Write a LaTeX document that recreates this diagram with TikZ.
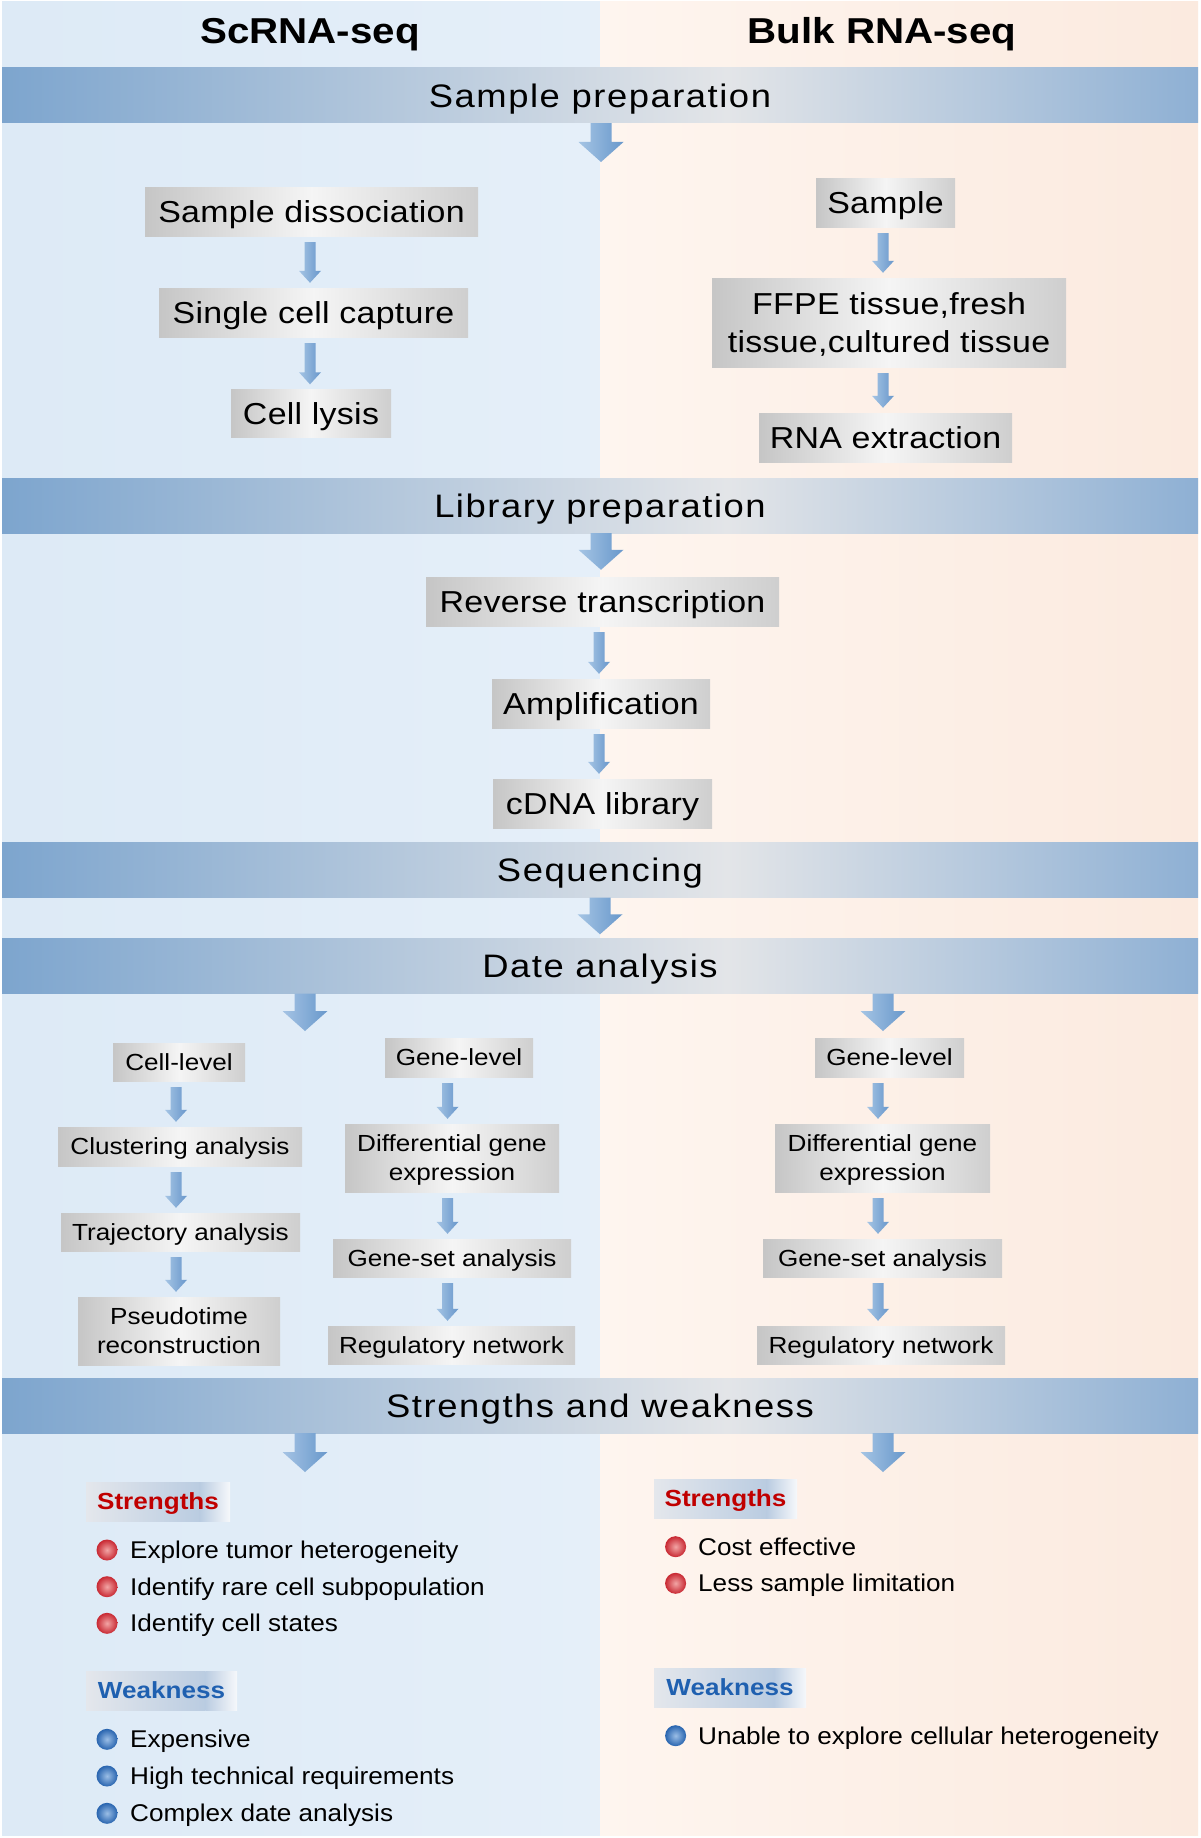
\documentclass[tikz,border=0pt]{standalone}
\usepackage{fontspec}
\setmainfont{Liberation Sans}
\newfontfamily\headfam[FakeStretch=1.12,Ligatures=NoCommon]{Liberation Sans}
\newfontfamily\bandfam[FakeStretch=1.12,LetterSpace=4.7,Ligatures=NoCommon]{Liberation Sans}
\newfontfamily\bigfam[FakeStretch=1.12,LetterSpace=0.9,Ligatures=NoCommon]{Liberation Sans}
\newfontfamily\smallfam[FakeStretch=1.12,Ligatures=NoCommon]{Liberation Sans}
\newfontfamily\itemfam[FakeStretch=1.08,Ligatures=NoCommon]{Liberation Sans}
\newfontfamily\labfam[FakeStretch=1.12,Ligatures=NoCommon]{Liberation Sans}
\usetikzlibrary{calc}

\definecolor{bandL}{RGB}{125,165,206}
\definecolor{bandM}{RGB}{227,229,232}
\definecolor{bandR}{RGB}{142,176,212}
\definecolor{leftA}{RGB}{221,234,246}
\definecolor{leftB}{RGB}{229,239,249}
\definecolor{rightA}{RGB}{254,245,239}
\definecolor{rightB}{RGB}{251,234,223}
\definecolor{arrL}{RGB}{165,196,228}
\definecolor{arrR}{RGB}{104,151,203}
\definecolor{strC}{RGB}{192,0,0}
\definecolor{weakC}{RGB}{31,96,176}
\definecolor{labL}{RGB}{228,231,236}
\definecolor{labM}{RGB}{186,204,225}
\definecolor{labR}{RGB}{246,248,251}
\definecolor{redIn}{RGB}{242,165,165}
\definecolor{redOut}{RGB}{200,40,50}
\definecolor{bluIn}{RGB}{155,190,230}
\definecolor{bluOut}{RGB}{40,100,175}

\newcommand\twolines[2]{\vbox{\halign{\hfil##\hfil\cr#1\cr#2\cr}}}
\newcommand\varrow[5]{%
  \shade[left color=arrL, right color=arrR]
    ($(#1)+(-#3,0)$) -- ($(#2)+(-#3,-#5)$) -- ($(#2)+(-#4,-#5)$) -- (#2)
    -- ($(#2)+(#4,-#5)$) -- ($(#2)+(#3,-#5)$) -- ($(#1)+(#3,0)$) -- cycle;}
\newcommand\sarr[3]{%
  \coordinate (tmpS) at ($(#1.south -| #3)+(0,6)$);
  \coordinate (tmpE) at ($(#2.north -| #3)+(0,-5)$);
  \varrow{tmpS}{tmpE}{5.5}{11}{12}}
\newcommand\barr[2]{\varrow{#1}{#2}{10.5}{22.5}{20}}

\tikzset{
  head/.style={inner sep=0pt, text height=26pt, text depth=0pt,
    font={\headfam\bfseries\fontsize{36}{42}\selectfont}},
  band/.style={minimum width=1196pt, minimum height=55pt, inner sep=0pt,
    text height=23.5pt, text depth=0pt,
    font={\bandfam\fontsize{32.5}{38}\selectfont},
    path picture={
      \coordinate (bpN) at ($(path picture bounding box.north west)!0.6062!(path picture bounding box.north east)$);
      \coordinate (bpS) at ($(path picture bounding box.south west)!0.6062!(path picture bounding box.south east)$);
      \shade[left color=bandL, right color=bandM]
        (path picture bounding box.south west) rectangle (bpN);
      \shade[left color=bandM, right color=bandR]
        (bpS) rectangle (path picture bounding box.north east);}},
  gbox/.style={inner xsep=10pt, inner ysep=0pt,
    left color=gray!45, right color=gray!38, middle color=gray!8},
  bbox/.style={gbox, minimum height=48pt, text height=21.7pt, text depth=0pt,
    font={\bigfam\fontsize{30.3}{38.4}\selectfont}},
  sbox/.style={gbox, minimum height=38pt, text height=16.7pt, text depth=0pt,
    font={\smallfam\fontsize{23.3}{29}\selectfont}},
  lab/.style={minimum height=39pt, inner xsep=8pt, inner ysep=0pt,
    text height=16.7pt, text depth=0pt,
    font={\labfam\bfseries\fontsize{23.3}{28}\selectfont},
    path picture={
      \coordinate (ppN) at ($(path picture bounding box.north west)!0.79!(path picture bounding box.north east)$);
      \coordinate (ppS) at ($(path picture bounding box.south west)!0.79!(path picture bounding box.south east)$);
      \shade[left color=labL, right color=labM] (path picture bounding box.south west) rectangle (ppN);
      \shade[left color=labM, right color=labR] (ppS) rectangle (path picture bounding box.north east);}},
  item/.style={anchor=west, inner sep=0pt, text height=17.3pt, text depth=0pt,
    font={\itemfam\fontsize{24.2}{29}\selectfont}},
  redball/.style={circle, minimum size=21pt, inner sep=0pt, inner color=redIn, outer color=redOut},
  blueball/.style={circle, minimum size=21pt, inner sep=0pt, inner color=bluIn, outer color=bluOut},
}

\begin{document}
\begin{tikzpicture}[x=1pt,y=-1pt]
\useasboundingbox (0,0) rectangle (1200,1838);
\fill[white] (0,0) rectangle (1200,1838);
\shade[left color=leftA, right color=leftB] (2,2) rectangle (600,1835);
\shade[left color=rightA, right color=rightB] (600,2) rectangle (1198,1835);

% headers
\node[head] (h1) at (310,31) {ScRNA-seq};
\node[head] (h2) at (882,31) {Bulk RNA-seq};

% bands
\node[band] (b1) at (600,95.5) {Sample preparation};
\node[band] (b2) at (600,505.5) {Library preparation};
\node[band] (b3) at (600,870) {Sequencing};
\node[band] (b4) at (600,966) {Date analysis};
\node[band] (b5) at (600,1405.5) {Strengths and weakness};

% column coordinates for arrows
\coordinate (cx1) at (310,0);
\coordinate (cx2) at (883,0);
\coordinate (cx3) at (599,0);
\coordinate (cx4) at (176,0);
\coordinate (cx5) at (447.5,0);
\coordinate (cx6) at (878,0);

% sample preparation
\node[bbox, minimum width=333pt] (sd) at (311.5,212) {Sample dissociation};
\node[bbox, minimum width=309pt, minimum height=49pt] (scc) at (313.5,312.5) {Single cell capture};
\node[bbox, minimum width=160pt] (cl) at (311,413.5) {Cell lysis};
\node[bbox, minimum width=139pt] (sam) at (885.5,203) {Sample};
\node[bbox, minimum width=354pt, minimum height=89pt, text height=60.1pt] (ffpe) at (889,322.5)
  {\twolines{FFPE tissue,fresh}{tissue,cultured tissue}};
\node[bbox, minimum width=253pt, minimum height=49pt] (rna) at (885.5,437.5) {RNA extraction};

% library preparation
\node[bbox, minimum width=353pt, minimum height=49pt] (rt) at (602.5,601.5) {Reverse transcription};
\node[bbox, minimum width=218pt, minimum height=49pt] (amp) at (601,703.5) {Amplification};
\node[bbox, minimum width=219pt, minimum height=49pt] (cdna) at (602.5,803.5) {cDNA library};

% data analysis
\node[sbox, minimum width=132pt] (cell) at (179,1062) {Cell-level};
\node[sbox, minimum width=244pt, minimum height=39pt] (clus) at (180,1146.5) {Clustering analysis};
\node[sbox, minimum width=239pt] (traj) at (180.5,1232) {Trajectory analysis};
\node[sbox, minimum width=202pt, minimum height=68pt, text height=45.7pt] (pseudo) at (179,1331)
  {\twolines{Pseudotime}{reconstruction}};
\node[sbox, minimum width=148pt, minimum height=39pt] (gl1) at (459,1057.5) {Gene-level};
\node[sbox, minimum width=214pt, minimum height=68pt, text height=45.7pt] (dge1) at (452,1158)
  {\twolines{Differential gene}{expression}};
\node[sbox, minimum width=238pt] (gsa1) at (452,1258) {Gene-set analysis};
\node[sbox, minimum width=247pt] (reg1) at (451.5,1345) {Regulatory network};
\node[sbox, minimum width=149pt, minimum height=39pt] (gl2) at (889.5,1057.5) {Gene-level};
\node[sbox, minimum width=215pt, minimum height=68pt, text height=45.7pt] (dge2) at (882.5,1158)
  {\twolines{Differential gene}{expression}};
\node[sbox, minimum width=239pt] (gsa2) at (882.5,1258) {Gene-set analysis};
\node[sbox, minimum width=248pt] (reg2) at (881,1345) {Regulatory network};

% small arrows
\sarr{sd}{scc}{cx1}
\sarr{scc}{cl}{cx1}
\sarr{sam}{ffpe}{cx2}
\sarr{ffpe}{rna}{cx2}
\sarr{rt}{amp}{cx3}
\sarr{amp}{cdna}{cx3}
\sarr{cell}{clus}{cx4}
\sarr{clus}{traj}{cx4}
\sarr{traj}{pseudo}{cx4}
\sarr{gl1}{dge1}{cx5}
\sarr{dge1}{gsa1}{cx5}
\sarr{gsa1}{reg1}{cx5}
\sarr{gl2}{dge2}{cx6}
\sarr{dge2}{gsa2}{cx6}
\sarr{gsa2}{reg2}{cx6}

% big arrows
\coordinate (a1e) at (601,162);
\barr{b1.south -| a1e}{a1e}
\coordinate (a2e) at ($(rt.north)+(-1.5,-7)$);
\barr{b2.south -| a2e}{a2e}
\coordinate (a3e) at ($(b4.north)+(0,-4)$);
\barr{b3.south}{a3e}
\coordinate (a4l) at (305,1031);
\coordinate (a4r) at (883,1031);
\barr{b4.south -| a4l}{a4l}
\barr{b4.south -| a4r}{a4r}
\coordinate (a5l) at (305,1472);
\coordinate (a5r) at (883,1472);
\barr{b5.south -| a5l}{a5l}
\barr{b5.south -| a5r}{a5r}

% strengths and weakness
\node[lab, minimum width=144pt, text=strC] (sl1) at (158,1501.5) {Strengths};
\node[lab, minimum width=151pt, text=weakC] (wl1) at (161.5,1690.5) {Weakness};
\node[lab, minimum width=143pt, text=strC] (sl2) at (725.5,1498.5) {Strengths};
\node[lab, minimum width=152pt, text=weakC] (wl2) at (730,1687.5) {Weakness};

\node[redball] (rb1) at (107,1550) {};
\node[item] (s1) at (130,1550) {Explore tumor heterogeneity};
\node[redball] (rb2) at (107,1586.7) {};
\node[item] (s2) at (130,1586.7) {Identify rare cell subpopulation};
\node[redball] (rb3) at (107,1623.3) {};
\node[item] (s3) at (130,1623.3) {Identify cell states};

\node[blueball] (bb1) at (107,1739.3) {};
\node[item] (w1) at (130,1739.3) {Expensive};
\node[blueball] (bb2) at (107,1776) {};
\node[item] (w2) at (130,1776) {High technical requirements};
\node[blueball] (bb3) at (107,1813.3) {};
\node[item] (w3) at (130,1813.3) {Complex date analysis};

\node[redball] (rb4) at (675.6,1546.7) {};
\node[item] (s4) at (698,1546.7) {Cost effective};
\node[redball] (rb5) at (675.6,1583.3) {};
\node[item] (s5) at (698,1583.3) {Less sample limitation};

\node[blueball] (bb4) at (675.6,1735.7) {};
\node[item] (w4) at (698,1735.7) {Unable to explore cellular heterogeneity};
\end{tikzpicture}
\end{document}
